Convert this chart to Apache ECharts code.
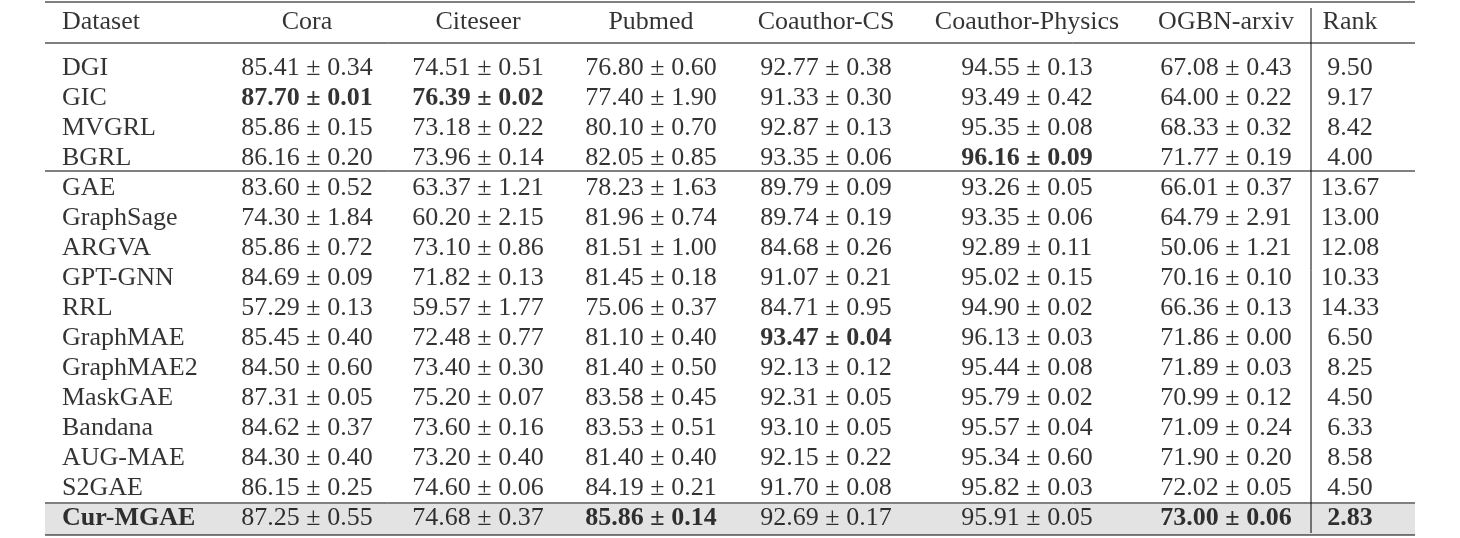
<!DOCTYPE html><html><head><meta charset="utf-8">
<script src="https://cdn.jsdelivr.net/npm/echarts@6/dist/echarts.min.js"></script>
<style>html,body{margin:0;background:#fff}#c{width:1460px;height:538px}</style></head><body><div id="c"></div>
<script>
const headers = ["Dataset","Cora","Citeseer","Pubmed","Coauthor-CS","Coauthor-Physics","OGBN-arxiv","Rank"];
const methods = ["DGI","GIC","MVGRL","BGRL","GAE","GraphSage","ARGVA","GPT-GNN","RRL","GraphMAE","GraphMAE2","MaskGAE","Bandana","AUG-MAE","S2GAE","Cur-MGAE"];
const cora = ["85.41 ± 0.34","87.70 ± 0.01","85.86 ± 0.15","86.16 ± 0.20","83.60 ± 0.52","74.30 ± 1.84","85.86 ± 0.72","84.69 ± 0.09","57.29 ± 0.13","85.45 ± 0.40","84.50 ± 0.60","87.31 ± 0.05","84.62 ± 0.37","84.30 ± 0.40","86.15 ± 0.25","87.25 ± 0.55"];
const citeseer = ["74.51 ± 0.51","76.39 ± 0.02","73.18 ± 0.22","73.96 ± 0.14","63.37 ± 1.21","60.20 ± 2.15","73.10 ± 0.86","71.82 ± 0.13","59.57 ± 1.77","72.48 ± 0.77","73.40 ± 0.30","75.20 ± 0.07","73.60 ± 0.16","73.20 ± 0.40","74.60 ± 0.06","74.68 ± 0.37"];
const pubmed = ["76.80 ± 0.60","77.40 ± 1.90","80.10 ± 0.70","82.05 ± 0.85","78.23 ± 1.63","81.96 ± 0.74","81.51 ± 1.00","81.45 ± 0.18","75.06 ± 0.37","81.10 ± 0.40","81.40 ± 0.50","83.58 ± 0.45","83.53 ± 0.51","81.40 ± 0.40","84.19 ± 0.21","85.86 ± 0.14"];
const coauthorCS = ["92.77 ± 0.38","91.33 ± 0.30","92.87 ± 0.13","93.35 ± 0.06","89.79 ± 0.09","89.74 ± 0.19","84.68 ± 0.26","91.07 ± 0.21","84.71 ± 0.95","93.47 ± 0.04","92.13 ± 0.12","92.31 ± 0.05","93.10 ± 0.05","92.15 ± 0.22","91.70 ± 0.08","92.69 ± 0.17"];
const coauthorPhysics = ["94.55 ± 0.13","93.49 ± 0.42","95.35 ± 0.08","96.16 ± 0.09","93.26 ± 0.05","93.35 ± 0.06","92.89 ± 0.11","95.02 ± 0.15","94.90 ± 0.02","96.13 ± 0.03","95.44 ± 0.08","95.79 ± 0.02","95.57 ± 0.04","95.34 ± 0.60","95.82 ± 0.03","95.91 ± 0.05"];
const ogbn = ["67.08 ± 0.43","64.00 ± 0.22","68.33 ± 0.32","71.77 ± 0.19","66.01 ± 0.37","64.79 ± 2.91","50.06 ± 1.21","70.16 ± 0.10","66.36 ± 0.13","71.86 ± 0.00","71.89 ± 0.03","70.99 ± 0.12","71.09 ± 0.24","71.90 ± 0.20","72.02 ± 0.05","73.00 ± 0.06"];
const rank = ["9.50","9.17","8.42","4.00","13.67","13.00","12.08","10.33","14.33","6.50","8.25","4.50","6.33","8.58","4.50","2.83"];
const boldCells = [[1,1],[1,2],[3,5],[9,4],[15,0],[15,3],[15,6],[15,7]]; // [row, col]
// layout (pixel-based axes)
const colX = [17,262,433,606,781,982,1181,1305];
const headerY = 22, rowY0 = 68, rowStep = 30;
const columns = [methods,cora,citeseer,pubmed,coauthorCS,coauthorPhysics,ogbn,rank];
const isBold=(r,c)=>boldCells.some(b=>b[0]===r&&b[1]===c);
const data=[];
headers.forEach((h,c)=>data.push({value:[colX[c],headerY],t:h,b:false}));
columns.forEach((col,c)=>col.forEach((v,r)=>data.push({value:[colX[c],rowY0+rowStep*r],t:v,b:isBold(r,c)})));
const font="'Liberation Serif', 'DejaVu Serif', serif";
const chart=echarts.init(document.getElementById('c'));
const W=1370;
const line=(x1,y1,x2,y2,w)=>({type:'line',shape:{x1,y1,x2,y2},style:{stroke:'#000',lineWidth:w||1}});
chart.setOption({
 animation:false,
 grid:{left:45,top:0,width:W,height:538},
 xAxis:{type:'value',min:0,max:W,show:false},
 yAxis:{type:'value',min:0,max:538,inverse:true,show:false},
 graphic:[
  {type:'rect',shape:{x:45,y:504,width:W,height:31},style:{fill:'#e3e3e3'},z:-1},
  line(45,2,1415,2,1.2),line(45,43,1415,43,1),line(45,171,1415,171,1),line(45,503,1415,503,1),line(45,535,1415,535,1.2),
  line(1311,8,1311,533,1)
 ],
 series:[{type:'scatter',symbolSize:0,data:data.map(d=>({value:d.value,label:{
   show:true,position:'inside',formatter:d.t,fontFamily:font,fontSize:26,color:'#000',
   fontWeight:d.b?'bold':'normal',align:d.value[0]===colX[0]?'left':'center',verticalAlign:'middle'}}))}]
});
</script></body></html>
